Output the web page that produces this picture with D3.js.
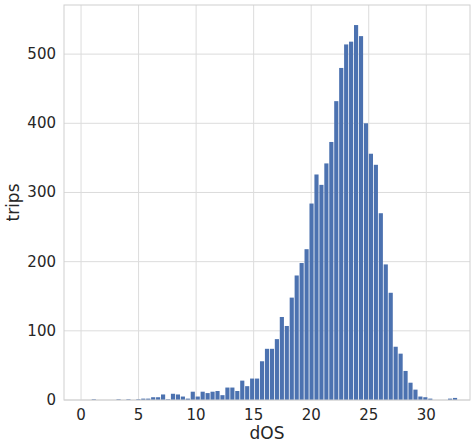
<!DOCTYPE html><html><head><meta charset="utf-8"><script src="https://cdn.jsdelivr.net/npm/d3@7"></script>
<style>body{margin:0;background:#fff}text{font-family:"DejaVu Sans",sans-serif;fill:#262626}</style></head><body>
<svg id="c" width="474" height="447"></svg>
<script>
const binStart = 0.93, binWidth = 0.43;
const counts = [1,0,0,0,0,1,0,1,0,1,2,2,4,4,8,1,9,8,5,2,12,5,12,10,12,13,7,18,18,13,28,20,31,31,56,74,74,88,120,107,148,180,198,218,284,326,311,342,373,432,480,514,518,542,526,400,356,340,270,196,155,77,67,42,25,15,5,4,2,0,0,0,2,3];
const xTicks = [0,5,10,15,20,25,30];
const yTicks = [0,100,200,300,400,500];
const svg = d3.select("#c");
const L=64,R=470,T=5,B=400;
const x = d3.scaleLinear().domain([-1.48,33.8]).range([L,R]);
const y = d3.scaleLinear().domain([0,571]).range([B,T]);
svg.append("g").selectAll("line").data(xTicks).join("line").attr("x1",d=>x(d)).attr("x2",d=>x(d)).attr("y1",T).attr("y2",B).attr("stroke","#dcdcdc");
svg.append("g").selectAll("line").data(yTicks).join("line").attr("y1",d=>y(d)).attr("y2",d=>y(d)).attr("x1",L).attr("x2",R).attr("stroke","#dcdcdc");
svg.append("g").selectAll("rect").data(counts).join("rect")
 .attr("x",(d,i)=>x(binStart+i*binWidth)).attr("width",x(binWidth)-x(0)-0.8)
 .attr("y",d=>y(d)).attr("height",d=>B-y(d)).attr("fill","#4c72b0");
svg.append("rect").attr("x",L).attr("y",T).attr("width",R-L).attr("height",B-T).attr("fill","none").attr("stroke","#d0d0d0");
svg.append("g").selectAll("text").data(xTicks).join("text").attr("x",d=>x(d)).attr("y",B+20).attr("text-anchor","middle").attr("font-size",15).text(d=>d);
svg.append("g").selectAll("text").data(yTicks).join("text").attr("x",L-8).attr("y",d=>y(d)+5).attr("text-anchor","end").attr("font-size",15).text(d=>d);
svg.append("text").attr("x",(L+R)/2).attr("y",439).attr("text-anchor","middle").attr("font-size",17).text("dOS");
svg.append("text").attr("transform",`translate(19,${(T+B)/2}) rotate(-90)`).attr("text-anchor","middle").attr("font-size",17).text("trips");
</script></body></html>
